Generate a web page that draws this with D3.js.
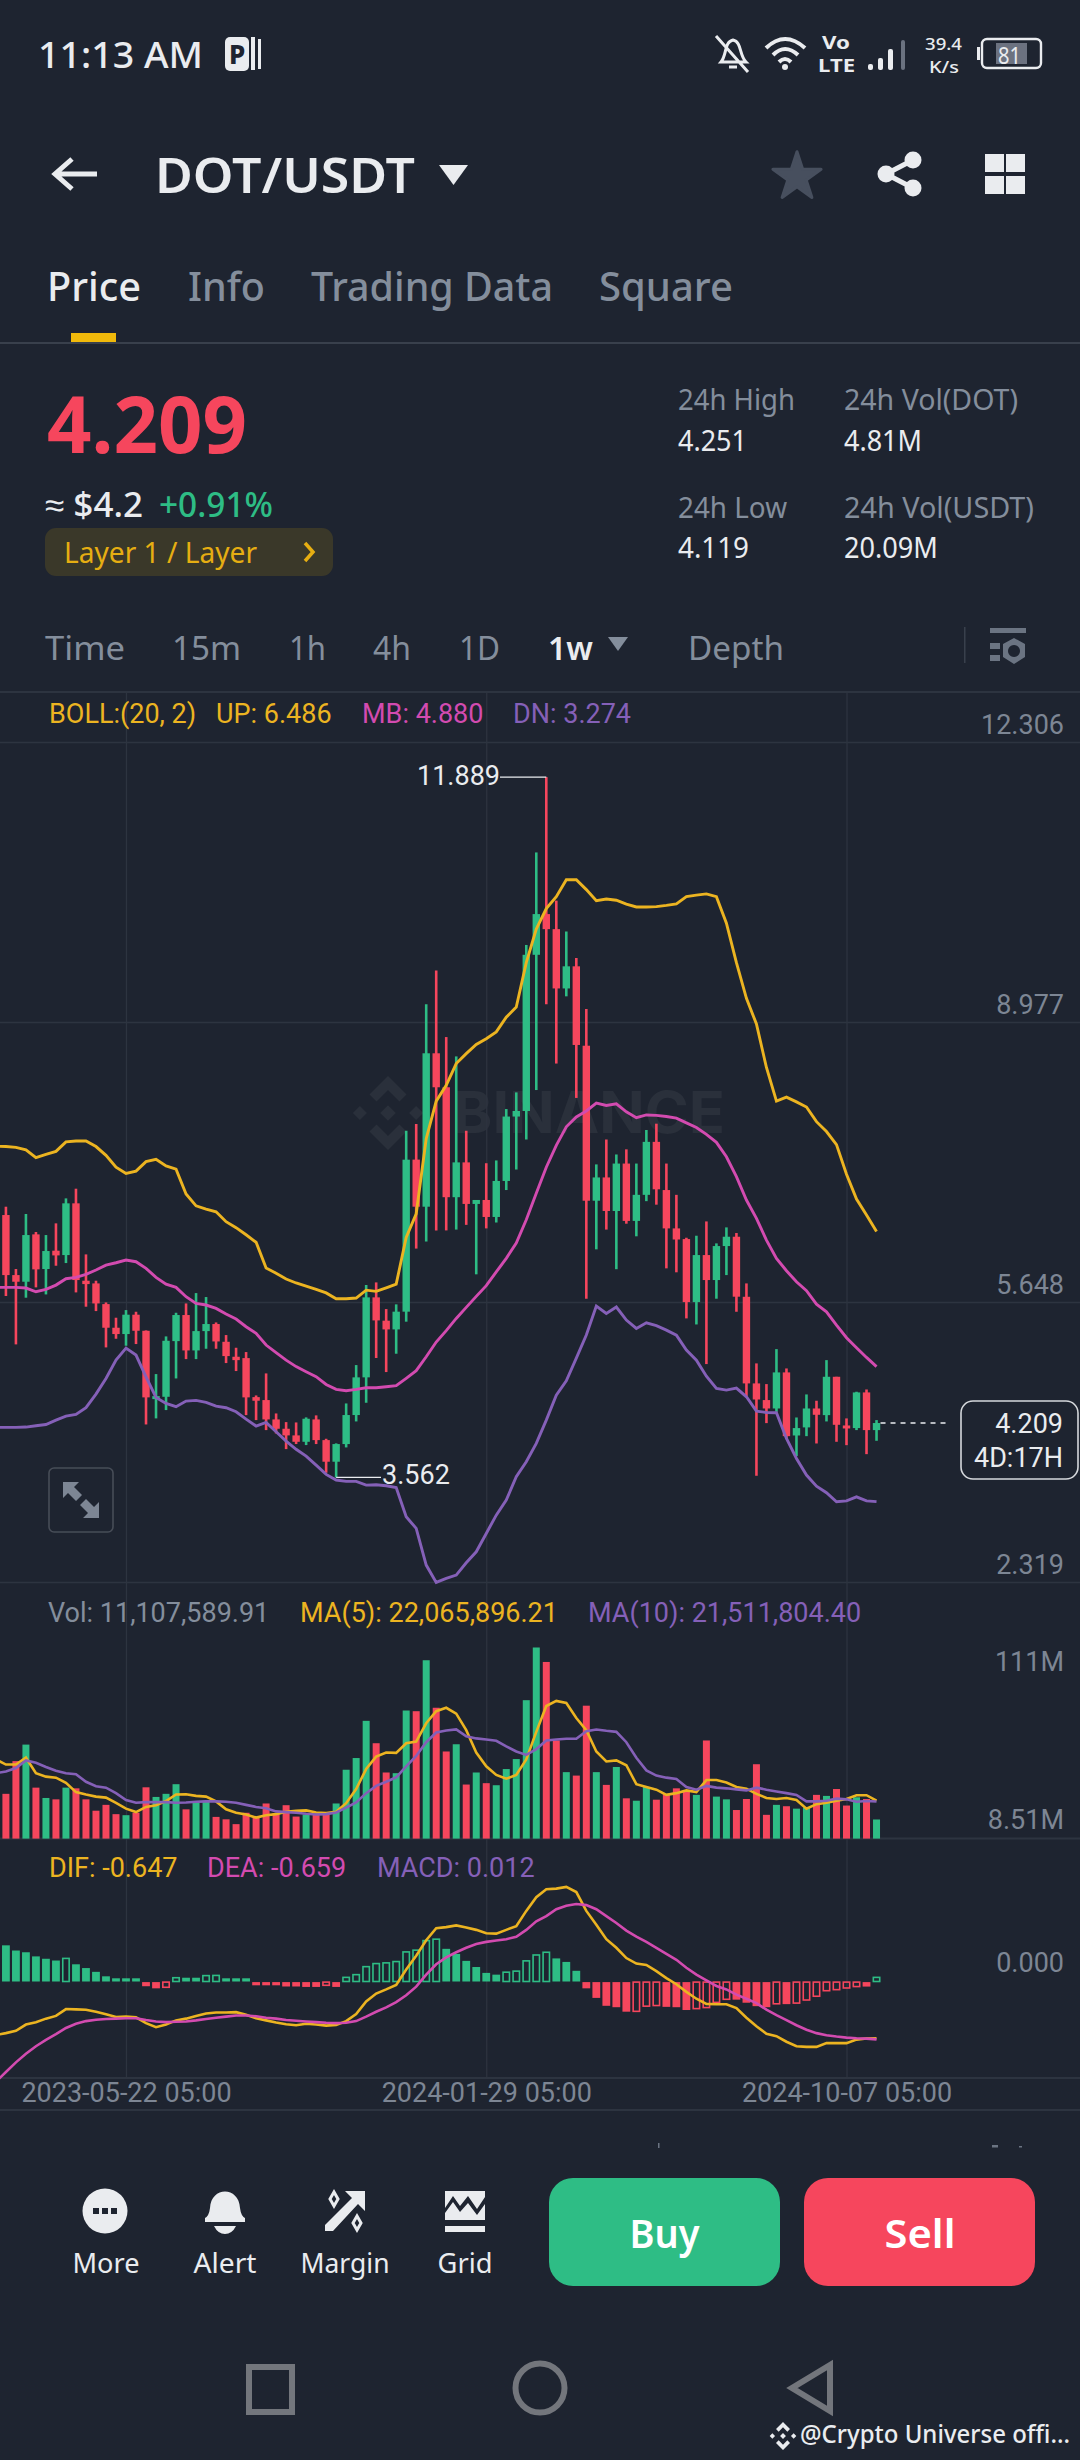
<!DOCTYPE html>
<html>
<head>
<meta charset="utf-8">
<script src="https://cdnjs.cloudflare.com/ajax/libs/d3/7.8.5/d3.min.js"></script>
<style>
  html, body { margin: 0; padding: 0; background: #1e2430; }
  svg { display: block; }
  .axis text { font-family: Roboto, sans-serif; font-size: 27px; fill: #7d8694; }
  .axis .domain { display: none; }
  .axis line { stroke: #2d3440; stroke-width: 1.3; }
</style>
</head>
<body>
<div id="chart"></div>
<script>
// Weekly DOT/USDT values. The first entry of each
// array is the week that sits just off the left edge of the screen.
var firstWeek = Date.UTC(2023, 1, 20, 5);

var priceOpen = [6.900,
  6.682,5.968,5.889,6.452,6.040,6.258,6.206,6.821,5.901,5.869,
  5.623,5.342,5.267,5.497,5.306,4.506,4.521,5.183,5.493,5.072,
  5.302,5.386,5.175,4.997,4.981,4.517,4.482,4.252,4.141,4.062,
  3.986,4.252,4.006,3.749,3.959,4.304,4.752,5.703,5.426,5.322,
  5.533,7.341,6.781,8.605,8.201,6.894,7.308,6.814,6.861,6.659,
  7.087,7.853,7.919,9.776,10.260,10.081,9.376,9.639,8.695,6.852,
  7.129,6.730,7.294,6.612,6.922,7.552,6.979,6.523,6.396,5.647,
  6.206,5.909,6.313,6.424,5.710,4.680,4.482,4.382,4.811,4.061,
  4.157,4.382,4.303,4.759,4.180,4.149,4.573,4.125];
var priceClose = [6.682,
  5.968,5.889,6.444,6.036,6.254,6.202,6.821,5.909,5.861,5.631,
  5.342,5.267,5.497,5.306,4.514,4.529,5.187,5.493,5.072,5.302,
  5.386,5.179,5.005,4.957,4.514,4.474,4.252,4.141,4.062,3.986,
  4.260,4.006,3.749,3.959,4.304,4.752,5.703,5.429,5.322,5.533,
  7.340,6.781,8.605,8.201,6.894,7.308,6.814,6.861,6.659,7.087,
  7.853,7.919,9.776,10.260,10.081,9.376,9.639,8.704,6.852,7.129,
  6.730,7.294,6.612,6.922,7.552,6.988,6.523,6.391,5.647,6.206,
  5.909,6.313,6.424,5.711,4.680,4.489,4.382,4.811,4.053,4.149,
  4.382,4.307,4.759,4.188,4.149,4.573,4.125,4.209];
var priceHigh = [7.000,
  6.781,6.040,6.694,6.480,6.444,6.583,6.880,6.995,6.214,5.901,
  5.643,5.461,5.552,5.532,5.310,4.791,5.239,5.520,5.631,5.754,
  5.707,5.405,5.255,5.104,5.053,4.537,4.799,4.323,4.220,4.216,
  4.276,4.300,4.022,3.967,4.442,4.898,5.850,5.881,5.564,5.620,
  7.684,7.764,9.188,9.588,8.798,8.568,7.684,6.861,7.298,7.331,
  7.942,8.140,9.893,10.993,11.889,10.420,10.053,9.738,9.132,7.284,
  7.580,7.402,7.463,7.294,7.693,7.768,7.294,6.922,6.412,6.436,
  6.606,6.345,6.535,6.468,5.869,4.918,4.672,5.088,4.858,4.275,
  4.549,4.474,4.957,4.759,4.264,4.581,4.608,4.244];
var priceLow = [6.500,
  5.719,5.144,5.699,5.822,5.738,6.079,6.111,5.762,5.592,5.540,
  5.108,5.211,5.128,5.148,4.192,4.264,4.363,4.739,4.969,4.969,
  5.092,5.092,4.922,4.827,4.303,4.244,4.125,4.085,3.899,3.959,
  3.947,3.959,3.618,3.562,3.919,4.228,4.450,4.982,4.815,5.033,
  5.414,6.283,6.367,6.499,6.499,6.509,6.565,5.977,6.523,6.593,
  6.979,7.223,7.580,8.168,9.188,8.483,9.282,8.074,5.686,6.274,
  6.509,6.038,6.579,6.429,6.847,6.805,6.048,6.001,5.453,5.381,
  4.910,5.687,5.968,5.532,4.529,3.582,4.208,4.343,4.026,3.816,
  4.053,3.966,4.228,3.986,3.946,4.125,3.839,3.998];

var bollUp = [7.500,
  7.496,7.486,7.458,7.364,7.402,7.439,7.552,7.562,7.562,7.496,
  7.392,7.251,7.176,7.204,7.317,7.345,7.265,7.228,6.932,6.791,
  6.753,6.720,6.603,6.532,6.447,6.358,6.053,5.991,5.921,5.874,
  5.836,5.799,5.756,5.686,5.686,5.695,5.789,5.775,5.817,5.860,
  6.415,6.697,7.590,8.036,8.224,8.483,8.601,8.709,8.779,8.859,
  9.033,9.155,9.682,10.081,10.326,10.467,10.669,10.669,10.551,10.420,
  10.439,10.425,10.378,10.345,10.345,10.349,10.363,10.382,10.467,10.486,
  10.500,10.467,10.152,9.682,9.259,8.953,8.436,8.036,8.083,8.027,
  7.966,7.792,7.675,7.519,7.167,6.871,6.683,6.486];
var bollMid = [5.822,
  5.822,5.822,5.814,5.770,5.798,5.849,5.925,5.941,5.976,6.028,
  6.087,6.115,6.147,6.127,6.048,5.941,5.861,5.822,5.711,5.631,
  5.612,5.572,5.505,5.445,5.354,5.275,5.136,5.045,4.957,4.880,
  4.819,4.760,4.668,4.609,4.593,4.609,4.629,4.629,4.641,4.653,
  4.740,4.831,4.997,5.172,5.307,5.453,5.584,5.715,5.842,6.005,
  6.167,6.350,6.625,6.940,7.250,7.510,7.731,7.848,7.919,8.012,
  7.985,8.004,7.909,7.839,7.872,7.867,7.853,7.834,7.778,7.722,
  7.641,7.546,7.375,7.138,6.860,6.642,6.384,6.166,6.020,5.889,
  5.782,5.623,5.532,5.373,5.223,5.104,4.989,4.880];
var bollDn = [4.157,
  4.157,4.157,4.161,4.177,4.192,4.244,4.292,4.311,4.391,4.553,
  4.739,4.957,5.100,5.017,4.759,4.514,4.442,4.403,4.470,4.478,
  4.454,4.410,4.391,4.343,4.256,4.173,4.216,4.105,3.994,3.897,
  3.816,3.709,3.598,3.531,3.515,3.515,3.471,3.475,3.463,3.443,
  3.095,2.956,2.520,2.314,2.361,2.401,2.548,2.678,2.896,3.114,
  3.293,3.570,3.749,3.967,4.244,4.541,4.712,4.980,5.255,5.600,
  5.512,5.588,5.433,5.334,5.401,5.366,5.314,5.253,5.076,4.957,
  4.765,4.620,4.600,4.624,4.521,4.351,4.335,4.331,4.026,3.788,
  3.590,3.459,3.380,3.273,3.284,3.332,3.284,3.274];

// volume in millions
var volume = [30,
  26,45,54.6,29.6,23.6,22.8,29.6,29.2,22.8,16.2,
  19.6,14.2,13.6,15,29.8,24.2,26,31.6,17,21.6,
  22,12.6,11.2,8.4,15,12.4,20.4,14.8,19.4,12.8,
  14,14.4,14.4,20.4,40,46.8,68.4,55.4,38.4,38,
  74.4,74,103.6,76,50.6,54.8,31.4,38.4,32.2,31,
  40.4,46.2,80.4,111,102.6,57,38.6,36.6,77.2,38.6,
  31.2,41.6,23.4,22,30,22.6,26,29.2,28,25.4,
  57,24.4,22.8,16.6,23,43.2,13.8,19.6,18.8,17.4,
  18,25.4,24.8,28.8,19.2,24,23,11.1];
var volMa5 = [46,
  43,43,47,38,36,35.4,32.4,27,25.6,24.4,
  23.8,20.8,17.4,15.4,18.4,19.4,21.8,25.6,25.8,24.8,
  24.4,21.6,17,15,14,12.2,13.6,14.2,15.6,16.2,
  16.4,15.2,14.8,15.6,20.6,28.8,40.4,47.6,50,49.8,
  55.4,56.4,67,74,76,72.6,63,50,42,37,
  34.8,37,46,62,77,80,78.8,70,63,50.6,
  44.8,45.4,42.6,31.6,30,28.4,25.4,26.4,28,27,
  34,34,32.6,30,29,26,23.6,23,23.6,22.4,
  17.4,20,20.8,22,23,25.2,25.2,22.07];
var volMa10 = [38,
  39,41,45.4,44,41.6,39.4,38,37.4,33,30.4,
  29.6,26.4,22.4,20.8,21.2,21.2,21.2,20.8,21,21.4,
  21.6,21.6,21.4,20.8,19.6,18.4,17.6,15.8,15.4,15,
  14.4,14,14.2,15.2,18,21,26.4,30.6,33,35.6,
  42,48,56,61.6,62.8,63.4,59.4,58.2,57.6,56.8,
  53.6,50.6,48.6,52,57,57.6,58,58,62.4,63.4,
  62.6,62,56,47,39.6,36.6,35.4,34.6,30,28.4,
  30.6,29.6,29.2,28.6,28,29.6,28.4,27.4,26.4,25.4,
  21.6,21.6,22,23.2,22.8,21.4,21.8,21.51];

var macdDif = [-0.610,
  -0.588,-0.561,-0.490,-0.463,-0.423,-0.392,-0.314,-0.318,-0.321,-0.345,
  -0.372,-0.404,-0.400,-0.408,-0.474,-0.521,-0.490,-0.443,-0.423,-0.392,
  -0.365,-0.353,-0.353,-0.349,-0.380,-0.419,-0.443,-0.466,-0.486,-0.498,
  -0.482,-0.490,-0.502,-0.494,-0.451,-0.372,-0.227,-0.137,-0.090,-0.039,
  0.137,0.294,0.470,0.608,0.619,0.639,0.615,0.588,0.549,0.545,
  0.588,0.631,0.804,0.960,1.051,1.058,1.078,1.019,0.804,0.647,
  0.482,0.384,0.267,0.204,0.188,0.118,0.039,-0.031,-0.118,-0.196,
  -0.255,-0.259,-0.259,-0.302,-0.412,-0.510,-0.596,-0.623,-0.686,-0.737,
  -0.745,-0.745,-0.702,-0.702,-0.702,-0.662,-0.650,-0.647];
var macdDea = [-1.140,
  -1.031,-0.921,-0.823,-0.737,-0.666,-0.600,-0.529,-0.482,-0.451,-0.435,
  -0.427,-0.423,-0.419,-0.419,-0.439,-0.455,-0.463,-0.459,-0.455,-0.443,
  -0.427,-0.412,-0.400,-0.388,-0.388,-0.396,-0.412,-0.423,-0.439,-0.447,
  -0.455,-0.463,-0.470,-0.474,-0.470,-0.451,-0.400,-0.345,-0.294,-0.235,
  -0.157,-0.059,0.078,0.196,0.274,0.333,0.384,0.427,0.451,0.466,
  0.482,0.510,0.588,0.686,0.745,0.823,0.862,0.882,0.870,0.823,
  0.745,0.666,0.580,0.510,0.451,0.384,0.314,0.247,0.157,0.078,
  0.012,-0.051,-0.090,-0.149,-0.196,-0.247,-0.321,-0.384,-0.439,-0.498,
  -0.549,-0.588,-0.612,-0.627,-0.639,-0.647,-0.651,-0.659];
var macdHist = [0.430,
  0.412,0.353,0.333,0.286,0.259,0.239,0.263,0.196,0.153,0.110,
  0.059,0.012,0.010,0.008,-0.047,-0.071,-0.059,0.043,0.043,0.043,
  0.067,0.069,0.020,0.016,0.012,-0.025,-0.025,-0.035,-0.050,-0.050,
  -0.055,-0.055,-0.030,-0.055,0.047,0.078,0.169,0.204,0.212,0.227,
  0.337,0.357,0.466,0.482,0.372,0.314,0.235,0.165,0.098,0.078,
  0.106,0.118,0.235,0.302,0.333,0.263,0.223,0.122,-0.071,-0.180,
  -0.270,-0.286,-0.337,-0.333,-0.274,-0.267,-0.282,-0.286,-0.318,-0.302,
  -0.290,-0.231,-0.196,-0.200,-0.235,-0.274,-0.286,-0.247,-0.251,-0.239,
  -0.204,-0.161,-0.098,-0.086,-0.067,-0.051,-0.051,0.047];

var priceTicks = [12.306, 8.977, 5.648, 2.319];
var volumeTicks = [111, 8.51];
var macdTicks = [0];
var timeTicks = [Date.UTC(2023, 4, 22, 5), Date.UTC(2024, 0, 29, 5), Date.UTC(2024, 9, 7, 5)];

var width = 1080, height = 2460;
var bg = "#1e2430", up = "#2ebd85", down = "#f6465d", grid = "#2d3440";
var yellow = "#ecb421", magenta = "#d34bb0", purple = "#8560b8";
var gray = "#848e9c", light = "#eaecef";
var uiFont = "'Noto Sans', sans-serif", chartFont = "Roboto, sans-serif";

var weeks = priceOpen.map(function (d, i) { return new Date(firstWeek + i * 7 * 864e5); });
var last = weeks.length - 1;

var svg = d3.select("#chart").append("svg")
    .attr("width", width)
    .attr("height", height);

svg.append("rect").attr("width", width).attr("height", height).attr("fill", bg);

var x = d3.scaleUtc().domain([timeTicks[0], timeTicks[2]]).range([126, 846.5]);
var yPrice = d3.scaleLinear().domain([2.319, 12.306]).range([1582, 742]);
var yVol = d3.scaleLinear().domain([0, 111]).range([1838.6, 1647.5]);
var yMacd = d3.scaleLinear().domain([-1, 1]).range([2069.3, 1893.7]);

function label(parent, px, py, str, o) {
    var t = parent.append("text")
        .attr("x", px).attr("y", py)
        .attr("font-family", o.family || uiFont)
        .attr("font-size", o.size)
        .attr("font-weight", o.weight || 400)
        .attr("fill", o.fill || light)
        .attr("text-anchor", o.anchor || "start")
        .text(str);
    if (o.width) t.attr("textLength", o.width).attr("lengthAdjust", "spacingAndGlyphs");
    return t;
}

function bnbLogo(parent, cx, cy, r, fill) {
    var d = "M0,-1L.5,-.5L.31,-.31L0,-.62L-.31,-.31L-.5,-.5Z M0,1L.5,.5L.31,.31L0,.62L-.31,.31L-.5,.5Z " +
        "M0,-.21L.21,0L0,.21L-.21,0Z M-.76,-.19L-.57,0L-.76,.19L-.95,0Z M.76,-.19L.95,0L.76,.19L.57,0Z";
    parent.append("path")
        .attr("d", d)
        .attr("fill", fill)
        .attr("transform", "translate(" + cx + "," + cy + ") scale(" + r + ")");
}

// --------------------------------------------
// Chart
// --------------------------------------------
var chart = svg.append("g");

// watermark
bnbLogo(chart, 388, 1113, 37, "#2a303b");
label(chart, 453, 1133, "BINANCE", { size: 58, weight: 700, fill: "#2a303b", width: 272, family: "Inter, sans-serif" });

// horizontal and vertical grid through the axes
var priceAxis = chart.append("g").attr("class", "axis")
    .call(d3.axisRight(yPrice).tickValues(priceTicks).tickSize(width).tickFormat(d3.format(".3f")));
priceAxis.selectAll("text").attr("x", 1064).attr("y", -9).attr("dy", 0).attr("text-anchor", "end");

var timeAxis = chart.append("g").attr("class", "axis")
    .attr("transform", "translate(0,2078)")
    .call(d3.axisBottom(x).tickValues(timeTicks).tickSize(-1386).tickFormat(d3.utcFormat("%Y-%m-%d %H:%M")));
timeAxis.selectAll("text").attr("y", 24).attr("dy", 0);

var volAxis = chart.append("g").attr("class", "axis")
    .call(d3.axisRight(yVol).tickValues(volumeTicks).tickSize(0).tickFormat(function (d) { return d + "M"; }));
volAxis.selectAll("text").attr("x", 1064).attr("dy", 0).attr("text-anchor", "end")
    .attr("y", function (d) { return d === 111 ? 22.5 : 5; });

var macdAxis = chart.append("g").attr("class", "axis")
    .call(d3.axisRight(yMacd).tickValues(macdTicks).tickSize(0).tickFormat(d3.format(".3f")));
macdAxis.selectAll("text").attr("x", 1064).attr("y", -10.5).attr("dy", 0).attr("text-anchor", "end");

// panel borders
chart.selectAll("line.border")
    .data([692, 1838.5, 2078, 2110])
    .enter().append("line")
    .attr("class", "border")
    .attr("x1", 0).attr("x2", width)
    .attr("y1", function (d) { return d; }).attr("y2", function (d) { return d; })
    .attr("stroke", grid).attr("stroke-width", 2);

function isUp(i) { return priceClose[i] >= priceOpen[i]; }
function upDown(d, i) { return isUp(i) ? up : down; }

// candles
chart.selectAll("line.wick")
    .data(weeks)
    .enter().append("line")
    .attr("class", "wick")
    .attr("x1", function (d) { return x(d); }).attr("x2", function (d) { return x(d); })
    .attr("y1", function (d, i) { return yPrice(priceHigh[i]); })
    .attr("y2", function (d, i) { return yPrice(priceLow[i]); })
    .attr("stroke", upDown)
    .attr("stroke-width", 2.6);

chart.selectAll("rect.body")
    .data(weeks)
    .enter().append("rect")
    .attr("class", "body")
    .attr("x", function (d) { return x(d) - 3.7; })
    .attr("width", 7.4)
    .attr("y", function (d, i) { return yPrice(Math.max(priceOpen[i], priceClose[i])); })
    .attr("height", function (d, i) {
        return Math.max(3, Math.abs(yPrice(priceOpen[i]) - yPrice(priceClose[i])));
    })
    .attr("fill", upDown);

// bollinger bands
function seriesLine(parent, values, y, color, w) {
    var line = d3.line()
        .x(function (d, i) { return x(weeks[i]); })
        .y(function (d) { return y(d); });
    parent.append("path")
        .attr("d", line(values))
        .attr("fill", "none")
        .attr("stroke", color)
        .attr("stroke-width", w);
}
seriesLine(chart, bollUp, yPrice, yellow, 2.9);
seriesLine(chart, bollMid, yPrice, magenta, 2.9);
seriesLine(chart, bollDn, yPrice, purple, 2.9);

// high, low and current price tags
var hi = d3.maxIndex(priceHigh), lo = d3.minIndex(priceLow);
chart.append("line")
    .attr("x1", 500).attr("x2", x(weeks[hi]))
    .attr("y1", yPrice(priceHigh[hi])).attr("y2", yPrice(priceHigh[hi]))
    .attr("stroke", light).attr("stroke-width", 1.3);
label(chart, 500, yPrice(priceHigh[hi]) + 8, d3.format(".3f")(priceHigh[hi]), { size: 27, family: chartFont, anchor: "end" });
chart.append("line")
    .attr("x1", x(weeks[lo])).attr("x2", 381)
    .attr("y1", yPrice(priceLow[lo])).attr("y2", yPrice(priceLow[lo]))
    .attr("stroke", light).attr("stroke-width", 1.3);
label(chart, 382, yPrice(priceLow[lo]) + 7, d3.format(".3f")(priceLow[lo]), { size: 27, family: chartFont });

chart.append("line")
    .attr("x1", x(weeks[last]) + 4).attr("x2", 947)
    .attr("y1", yPrice(priceClose[last])).attr("y2", yPrice(priceClose[last]))
    .attr("stroke", light).attr("stroke-width", 1.4).attr("stroke-dasharray", "5,5");
chart.append("rect")
    .attr("x", 961).attr("y", 1401).attr("width", 117).attr("height", 78).attr("rx", 12)
    .attr("fill", bg).attr("stroke", "#d5d8dc").attr("stroke-width", 1.6);
label(chart, 1063, 1433, d3.format(".3f")(priceClose[last]), { size: 27, family: chartFont, anchor: "end" });
label(chart, 1063, 1467, "4D:17H", { size: 27, family: chartFont, anchor: "end" });

// expand button
chart.append("rect")
    .attr("x", 49).attr("y", 1468).attr("width", 64).attr("height", 64).attr("rx", 5)
    .attr("fill", "none").attr("stroke", "#474d57").attr("stroke-width", 1.6);
chart.append("path")
    .attr("d", "M63,1482h16l-5,5l8,8l-6,6l-8,-8l-5,5Z M99,1518h-16l5,-5l-8,-8l6,-6l8,8l5,-5Z")
    .attr("fill", "#7d8694");

// volume panel
chart.selectAll("rect.vol")
    .data(weeks)
    .enter().append("rect")
    .attr("class", "vol")
    .attr("x", function (d) { return x(d) - 3.5; })
    .attr("width", 7)
    .attr("y", function (d, i) { return yVol(volume[i]); })
    .attr("height", function (d, i) { return yVol(0) - yVol(volume[i]); })
    .attr("fill", upDown);
seriesLine(chart, volMa5, yVol, yellow, 2.6);
seriesLine(chart, volMa10, yVol, purple, 2.6);

// macd panel, rising bars are hollow
chart.selectAll("rect.hist")
    .data(macdHist)
    .enter().append("rect")
    .attr("class", "hist")
    .each(function (d, i) {
        var rising = i > 0 && d > macdHist[i - 1];
        var h = Math.max(3.2, Math.abs(yMacd(d) - yMacd(0)));
        var color = d >= 0 ? up : down;
        d3.select(this)
            .attr("x", x(weeks[i]) - (rising ? 3.2 : 3.9))
            .attr("width", rising ? 6.4 : 7.8)
            .attr("y", d >= 0 ? yMacd(0) - h : yMacd(0) + 0.6)
            .attr("height", h)
            .attr("fill", rising ? "none" : color)
            .attr("stroke", rising ? color : "none")
            .attr("stroke-width", 1.6);
    });
seriesLine(chart, macdDif, yMacd, yellow, 2.6);
seriesLine(chart, macdDea, yMacd, magenta, 2.6);

// indicator legends
var legends = [
    [49, 723, "BOLL:(20, 2)", yellow], [216, 723, "UP: 6.486", yellow],
    [362, 723, "MB: 4.880", magenta], [513, 723, "DN: 3.274", purple],
    [48, 1622, "Vol: 11,107,589.91", gray], [300, 1622, "MA(5): 22,065,896.21", yellow],
    [588, 1622, "MA(10): 21,511,804.40", purple],
    [49, 1877, "DIF: -0.647", yellow], [207, 1877, "DEA: -0.659", magenta], [377, 1877, "MACD: 0.012", purple]
];
legends.forEach(function (d) {
    label(chart, d[0], d[1], d[2], { size: 27, family: chartFont, fill: d[3] });
});

// --------------------------------------------
// Phone and app chrome
// --------------------------------------------
var head = svg.append("g");

label(head, 38, 68, "11:13 AM", { size: 36, weight: 500, width: 165 });
head.append("rect").attr("x", 225).attr("y", 37).attr("width", 24).attr("height", 34).attr("rx", 5).attr("fill", light);
label(head, 229, 64, "P", { size: 26, weight: 800, fill: bg });
head.append("rect").attr("x", 251).attr("y", 37).attr("width", 4).attr("height", 33).attr("fill", light);
head.append("rect").attr("x", 258).attr("y", 39).attr("width", 3).attr("height", 30).attr("fill", light);

// muted bell, wifi, network
head.append("path")
    .attr("d", "M721,62 C727,55 724,42 733,40 C742,42 739,55 746,62 Z M729,67 h8 M716,36 L748,72")
    .attr("fill", "none").attr("stroke", light).attr("stroke-width", 3);
head.append("path")
    .attr("d", "M766,48 Q785,30 805,48 M773,55 Q785,43 798,55 M779,62 Q785,56 791,62")
    .attr("fill", "none").attr("stroke", light).attr("stroke-width", 4);
head.append("circle").attr("cx", 785).attr("cy", 67).attr("r", 3).attr("fill", light);
label(head, 822, 49, "Vo", { size: 17, weight: 700, width: 28 });
label(head, 818, 72, "LTE", { size: 17, weight: 700, width: 37 });
head.selectAll("rect.signal")
    .data([[868, 64, 6], [878, 58, 12], [888, 49, 21], [901, 40, 30]])
    .enter().append("rect")
    .attr("class", "signal")
    .attr("x", function (d) { return d[0]; }).attr("y", function (d) { return d[1]; })
    .attr("width", function (d, i) { return i === 3 ? 4 : 5; }).attr("height", function (d) { return d[2]; })
    .attr("rx", 2)
    .attr("fill", function (d, i) { return i === 3 ? "#6b7280" : light; });
label(head, 925, 50, "39.4", { size: 17, weight: 500, width: 37 });
label(head, 929, 73, "K/s", { size: 17, weight: 500, width: 30 });
head.append("rect").attr("x", 982).attr("y", 39).attr("width", 59).attr("height", 29).attr("rx", 5)
    .attr("fill", "none").attr("stroke", light).attr("stroke-width", 2.4);
head.append("rect").attr("x", 996).attr("y", 43).attr("width", 31).attr("height", 21).attr("fill", "#6c7280");
head.append("rect").attr("x", 977).attr("y", 47).attr("width", 3).attr("height", 13).attr("fill", light);
label(head, 998, 64, "81", { size: 23, fill: light, width: 23 });

// header
head.append("path")
    .attr("d", "M97,174 H58 M72,159 L55,174 L72,189")
    .attr("fill", "none").attr("stroke", light).attr("stroke-width", 5);
label(head, 155, 193, "DOT/USDT", { size: 48, weight: 600, width: 260 });
head.append("path").attr("d", "M439,165 H468 L453.5,185 Z").attr("fill", light);
head.append("path")
    .attr("d", d3.symbol().type(d3.symbolStar).size(720)())
    .attr("transform", "translate(797,177)")
    .attr("fill", "#474f5e")
    .attr("stroke", "#474f5e").attr("stroke-width", 3).attr("stroke-linejoin", "round");
head.append("path")
    .attr("d", "M913,160 L886,174 L913,188")
    .attr("fill", "none").attr("stroke", light).attr("stroke-width", 5);
head.selectAll("circle.share")
    .data([[913, 160], [886, 174], [913, 188]])
    .enter().append("circle")
    .attr("class", "share")
    .attr("cx", function (d) { return d[0]; }).attr("cy", function (d) { return d[1]; })
    .attr("r", 8.5).attr("fill", light);
head.selectAll("rect.tile")
    .data([[985, 154], [1006, 154], [985, 176], [1006, 176]])
    .enter().append("rect")
    .attr("class", "tile")
    .attr("x", function (d) { return d[0]; }).attr("y", function (d) { return d[1]; })
    .attr("width", 19).attr("height", 18).attr("fill", light);

// tabs
label(head, 47, 301, "Price", { size: 40, weight: 500, width: 94 });
label(head, 188, 301, "Info", { size: 40, fill: gray, weight: 500, width: 77 });
label(head, 311, 301, "Trading Data", { size: 40, fill: gray, weight: 500, width: 242 });
label(head, 599, 301, "Square", { size: 40, fill: gray, weight: 500, width: 134 });
head.append("rect").attr("x", 71).attr("y", 333).attr("width", 45).attr("height", 9).attr("fill", "#f0b90b");
head.append("rect").attr("x", 0).attr("y", 342).attr("width", width).attr("height", 2).attr("fill", "#39404c");

// price block
label(head, 47, 453, "4.209", { size: 78, weight: 700, fill: down, width: 200 });
label(head, 45, 517, "≈ $4.2", { size: 34, weight: 500, width: 98 });
label(head, 159, 517, "+0.91%", { size: 34, weight: 500, fill: up, width: 114 });
head.append("rect").attr("x", 45).attr("y", 528).attr("width", 288).attr("height", 48).attr("rx", 11).attr("fill", "#3a3829");
label(head, 64, 563, "Layer 1 / Layer", { size: 29, fill: "#e6ae12", width: 193 });
head.append("path").attr("d", "M305,543 L313,552 L305,561")
    .attr("fill", "none").attr("stroke", "#e6ae12").attr("stroke-width", 3.5);

label(head, 678, 410, "24h High", { size: 29, fill: gray, width: 117 });
label(head, 678, 451, "4.251", { size: 29, width: 69 });
label(head, 844, 410, "24h Vol(DOT)", { size: 29, fill: gray, width: 174 });
label(head, 844, 451, "4.81M", { size: 29, width: 78 });
label(head, 678, 518, "24h Low", { size: 29, fill: gray, width: 109 });
label(head, 678, 558, "4.119", { size: 29, width: 71 });
label(head, 844, 518, "24h Vol(USDT)", { size: 29, fill: gray, width: 190 });
label(head, 844, 558, "20.09M", { size: 29, width: 94 });

// interval row
var intervals = [[45, "Time", 80], [172, "15m", 69], [289, "1h", 37], [373, "4h", 38], [459, "1D", 41]];
intervals.forEach(function (d) {
    label(head, d[0], 660, d[1], { size: 33, fill: gray, width: d[2] });
});
label(head, 548, 660, "1w", { size: 33, weight: 600, width: 45 });
head.append("path").attr("d", "M608,637 H628 L618,651 Z").attr("fill", gray);
label(head, 688, 660, "Depth", { size: 33, fill: gray, width: 96 });
head.append("rect").attr("x", 964).attr("y", 627).attr("width", 1.5).attr("height", 36).attr("fill", "#39404c");
head.append("path")
    .attr("fill-rule", "evenodd")
    .attr("d", "M990,628 h36 v5 h-36 Z M990,643 h10 v6 h-10 Z M990,655 h10 v6 h-10 Z " +
        "M1014,638 l11,6 v13 l-11,7 l-11,-7 v-13 Z M1014,645 a6,6 0 1,0 .01,0 Z")
    .attr("fill", "#6b7482");

// --------------------------------------------
// Bottom bar
// --------------------------------------------
var bottom = svg.append("g");

// bits of a clipped row peeking out above the buttons
bottom.selectAll("rect.stray")
    .data([[658, 2143, 1.5, 5], [992, 2145, 6, 2.5], [1019, 2146, 3, 1.5]])
    .enter().append("rect")
    .attr("class", "stray")
    .attr("x", function (d) { return d[0]; }).attr("y", function (d) { return d[1]; })
    .attr("width", function (d) { return d[2]; }).attr("height", function (d) { return d[3]; })
    .attr("fill", "#6b7482");

bottom.append("circle").attr("cx", 105).attr("cy", 2211).attr("r", 22.5).attr("fill", light);
bottom.selectAll("rect.dot")
    .data([93, 102, 111])
    .enter().append("rect")
    .attr("class", "dot")
    .attr("x", function (d) { return d; }).attr("y", 2208).attr("width", 6).attr("height", 6).attr("fill", bg);
bottom.append("path")
    .attr("d", "M205,2222 V2218 Q209,2216 210,2208 C211,2186 239,2186 240,2208 Q241,2216 245,2218 V2222 Z M214,2226 H236 Q232,2234 225,2234 Q218,2234 214,2226 Z")
    .attr("fill", light);
bottom.append("path")
    .attr("d", "M345,2191 H365 V2211 L358,2204 L333,2231 H325 V2225 L352,2198 Z")
    .attr("fill", light);
bottom.selectAll("path.percent")
    .data([[334, 2199], [357, 2223]])
    .enter().append("path")
    .attr("class", "percent")
    .attr("d", "M0,-7 L4,0 L0,7 L-4,0 Z")
    .attr("transform", function (d) { return "translate(" + d[0] + "," + d[1] + ")"; })
    .attr("fill", "none").attr("stroke", light).attr("stroke-width", 3);
bottom.append("path")
    .attr("d", "M445,2191 H485 V2197 L477,2209 L468,2196 L460,2206 L453,2196 L445,2208 Z M445,2213 L453,2202 L460,2212 L468,2203 L477,2215 L485,2204 V2220 H445 Z M445,2226 H485 V2232 H445 Z")
    .attr("fill", light);
[[106, "More", 67], [225, "Alert", 63], [345, "Margin", 89], [465, "Grid", 55]].forEach(function (d) {
    label(bottom, d[0], 2273, d[1], { size: 28, anchor: "middle", width: d[2] });
});

bottom.append("rect").attr("x", 549).attr("y", 2178).attr("width", 231).attr("height", 108).attr("rx", 24).attr("fill", up);
bottom.append("rect").attr("x", 804).attr("y", 2178).attr("width", 231).attr("height", 108).attr("rx", 24).attr("fill", down);
label(bottom, 664.5, 2248, "Buy", { size: 40, weight: 600, fill: "#fff", anchor: "middle", width: 70 });
label(bottom, 920, 2248, "Sell", { size: 40, weight: 600, fill: "#fff", anchor: "middle", width: 71 });

// android nav buttons
bottom.append("rect").attr("x", 249).attr("y", 2367).attr("width", 43).attr("height", 45)
    .attr("fill", "none").attr("stroke", "#73767c").attr("stroke-width", 6);
bottom.append("circle").attr("cx", 540).attr("cy", 2388).attr("r", 24.5)
    .attr("fill", "none").attr("stroke", "#73767c").attr("stroke-width", 6);
bottom.append("path").attr("d", "M830,2365 V2411 L792,2388 Z")
    .attr("fill", "none").attr("stroke", "#73767c").attr("stroke-width", 6);

// repost watermark
bnbLogo(bottom, 783, 2436, 14, light);
label(bottom, 800, 2443, "@Crypto Universe offi...", { size: 25, weight: 500, width: 270 });
</script>
</body>
</html>
